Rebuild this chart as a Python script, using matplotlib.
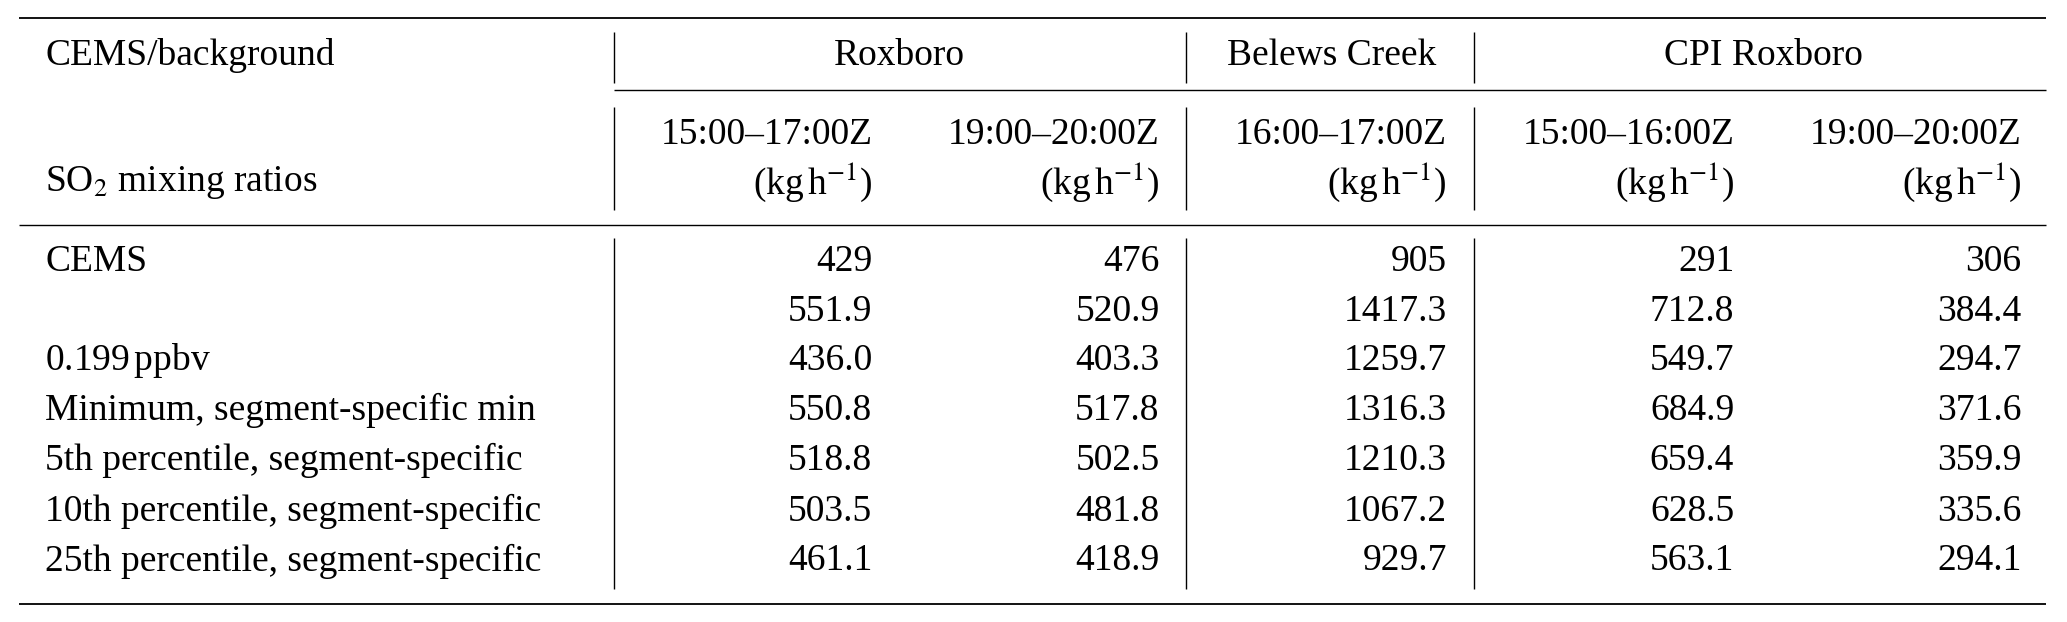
import matplotlib.pyplot as plt

plt.rcParams['font.family'] = ['Liberation Serif', 'DejaVu Serif']
plt.rcParams['mathtext.fontset'] = 'stix'

groups = ['Roxboro', 'Belews Creek', 'CPI Roxboro']
periods = ['15:00–17:00Z', '19:00–20:00Z', '16:00–17:00Z', '15:00–16:00Z', '19:00–20:00Z']
unit = r'(kg$\,$h$^{-1}$)'
row_labels = ['CEMS', '', '0.199$\\,$ppbv', 'Minimum, segment-specific min',
              '5th percentile, segment-specific', '10th percentile, segment-specific',
              '25th percentile, segment-specific']
values = [
    ['429', '476', '905', '291', '306'],
    ['551.9', '520.9', '1417.3', '712.8', '384.4'],
    ['436.0', '403.3', '1259.7', '549.7', '294.7'],
    ['550.8', '517.8', '1316.3', '684.9', '371.6'],
    ['518.8', '502.5', '1210.3', '659.4', '359.9'],
    ['503.5', '481.8', '1067.2', '628.5', '335.6'],
    ['461.1', '418.9', '929.7', '563.1', '294.1'],
]

fig = plt.figure(figsize=(20.67, 6.22), dpi=100)
ax = fig.add_axes([0, 0, 1, 1])
ax.set_xlim(0, 1)
ax.set_ylim(1, 0)
ax.axis('off')

fs = 27
col_right = [0.422, 0.561, 0.700, 0.839, 0.978]
group_x = [0.435, 0.644, 0.853]
vlines = [0.297, 0.574, 0.713]
row_y = [0.421, 0.501, 0.580, 0.660, 0.740, 0.823, 0.902]
left = 0.022

# rules
ax.hlines(0.029, 0.009, 0.990, color='k', lw=1.3)
ax.hlines(0.144, 0.297, 0.990, color='k', lw=1.0)
ax.hlines(0.362, 0.009, 0.990, color='k', lw=1.0)
ax.hlines(0.971, 0.009, 0.990, color='k', lw=1.3)
for x in vlines:
    for y0, y1 in [(0.051, 0.133), (0.172, 0.338), (0.383, 0.947)]:
        ax.vlines(x, y0, y1, color='k', lw=1.0)

# header
ax.text(left, 0.089, 'CEMS/background', fontsize=fs, va='center', ha='left')
for g, x in zip(groups, group_x):
    ax.text(x, 0.089, g, fontsize=fs, va='center', ha='center')
ax.text(left, 0.293, r'SO$_2$ mixing ratios', fontsize=fs, va='center', ha='left')
for p, x in zip(periods, col_right):
    ax.text(x, 0.217, p, fontsize=fs, va='center', ha='right')
    ax.text(x, 0.293, unit, fontsize=fs, va='center', ha='right')

# body
for lab, vals, y in zip(row_labels, values, row_y):
    ax.text(left, y, lab, fontsize=fs, va='center', ha='left')
    for v, x in zip(vals, col_right):
        ax.text(x, y, v, fontsize=fs, va='center', ha='right')

fig.savefig('out.png', dpi=100)
